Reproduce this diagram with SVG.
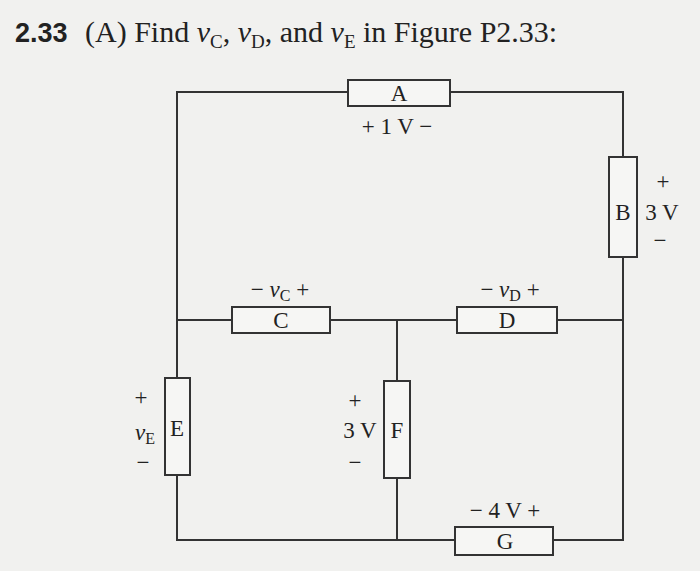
<svg xmlns="http://www.w3.org/2000/svg" width="700" height="571" viewBox="0 0 700 571">
<style>
.w{stroke:#333;stroke-width:2;fill:none}
.b{stroke:#333;stroke-width:2;fill:#f6f6f4}
.t{font-family:"Liberation Serif",serif;font-size:23px;fill:#222;text-anchor:middle}
.i{font-style:italic}
</style>
<rect width="700" height="571" fill="#f1f1ef"/>
<text x="15" y="42" font-family="Liberation Sans,sans-serif" font-weight="bold" font-size="27" fill="#222">2.33</text>
<text x="85" y="42" font-family="Liberation Serif,serif" font-size="30" fill="#222">(A) Find <tspan font-style="italic">v</tspan><tspan font-size="19" dy="6">C</tspan><tspan dy="-6">, </tspan><tspan font-style="italic">v</tspan><tspan font-size="19" dy="6">D</tspan><tspan dy="-6">, and </tspan><tspan font-style="italic">v</tspan><tspan font-size="19" dy="6">E</tspan><tspan dy="-6"> in Figure P2.33:</tspan></text>
<g id="wires">
<path class="w" d="M177 92H623V540H177Z M177 320H623 M397 320V540"/>
</g>
<g id="A"><rect class="b" x="348" y="80" width="102" height="26"/><text class="t" x="399" y="101">A</text><text class="t" x="397" y="134">+ 1 V −</text></g>
<g id="B"><rect class="b" x="609" y="157" width="28" height="100"/><text class="t" x="623" y="220">B</text><text class="t" x="662" y="220">3 V</text><text class="t" x="663" y="189">+</text><text class="t" x="660" y="248">−</text></g>
<g id="C"><rect class="b" x="232" y="307" width="98" height="26"/><text class="t" x="281" y="328">C</text><text class="t" x="280" y="297">− <tspan class="i">v</tspan><tspan font-size="16" dy="4">C</tspan><tspan dy="-4"> +</tspan></text></g>
<g id="D"><rect class="b" x="457" y="307" width="100" height="26"/><text class="t" x="507" y="328">D</text><text class="t" x="510" y="297">− <tspan class="i">v</tspan><tspan font-size="16" dy="4">D</tspan><tspan dy="-4"> +</tspan></text></g>
<g id="E"><rect class="b" x="165" y="378" width="25" height="97"/><text class="t" x="177" y="436">E</text><text class="t" x="141" y="405">+</text><text class="t" x="145" y="440"><tspan class="i">v</tspan><tspan font-size="16" dy="4">E</tspan></text><text class="t" x="143" y="470">−</text></g>
<g id="F"><rect class="b" x="384" y="381" width="26" height="97"/><text class="t" x="397" y="438">F</text><text class="t" x="355" y="408">+</text><text class="t" x="360" y="438">3 V</text><text class="t" x="355" y="470">−</text></g>
<g id="G"><rect class="b" x="455" y="527" width="98" height="28"/><text class="t" x="505" y="549">G</text><text class="t" x="505" y="518">− 4 V +</text></g>
</svg>
